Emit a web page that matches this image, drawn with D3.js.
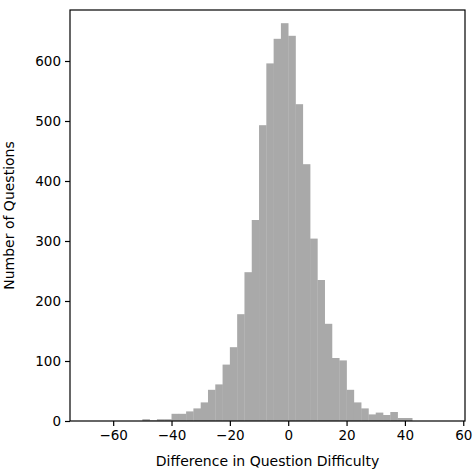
<!DOCTYPE html>
<html><head><meta charset="utf-8">
<script src="https://cdn.jsdelivr.net/npm/d3@7"></script>
<style>body{margin:0;background:#fff}text{font-family:"DejaVu Sans",sans-serif}</style>
</head><body><svg width="474" height="476"></svg>
<script>
// histogram bins (left edges, width 2.5) and counts
var binStart = -50, binWidth = 2.5;
var counts = [3, 1, 3, 3, 12, 12, 16, 21, 31, 52, 61, 94, 123, 178, 248, 335, 493, 596, 637, 663,
              642, 528, 428, 304, 235, 162, 105, 101, 52, 31, 21, 11, 14, 10, 15, 5, 5];
var xTicks = [-60, -40, -20, 0, 20, 40, 60];
var yTicks = [0, 100, 200, 300, 400, 500, 600];

var bins = counts.map(function(c, i) {
  return { x0: binStart + i * binWidth, x1: binStart + (i + 1) * binWidth, n: c };
});

var svg = d3.select("svg");
var padL = 70, padR = 465, padT = 10, padB = 421;
var x = d3.scaleLinear().domain([-74.8, 60.6]).range([padL, padR]);
var y = d3.scaleLinear().domain([0, 685]).range([padB, padT]);

svg.selectAll("rect.bar").data(bins).enter().append("rect")
  .attr("class", "bar")
  .attr("x", function(d) { return x(d.x0); })
  .attr("width", function(d) { return x(d.x1) - x(d.x0) + 0.3; })
  .attr("y", function(d) { return y(d.n); })
  .attr("height", function(d) { return y(0) - y(d.n); })
  .attr("fill", "#a9a9a9");

var xa = svg.append("g").attr("transform", "translate(0," + padB + ")")
  .call(d3.axisBottom(x).tickValues(xTicks).tickSize(5).tickPadding(4).tickFormat(function(d) { return d < 0 ? "\u2212" + (-d) : d; }));
var ya = svg.append("g").attr("transform", "translate(" + padL + ",0)")
  .call(d3.axisLeft(y).tickValues(yTicks).tickSize(5).tickPadding(4));
[xa, ya].forEach(function(a) {
  a.selectAll("text").style("font-size", "13.5px").attr("fill", "#000");
  a.selectAll("line").attr("stroke", "#000").attr("stroke-width", 1.2);
  a.select(".domain").remove();
});

// box spines
svg.append("rect").attr("x", padL).attr("y", padT).attr("width", padR - padL).attr("height", padB - padT)
  .attr("fill", "none").attr("stroke", "#000").attr("stroke-width", 1.2);

svg.append("text").attr("x", (padL + padR) / 2).attr("y", 466).attr("text-anchor", "middle")
  .style("font-size", "14px").text("Difference in Question Difficulty");
svg.append("text").attr("transform", "translate(14," + ((padT + padB) / 2) + ") rotate(-90)")
  .attr("text-anchor", "middle").style("font-size", "14px").text("Number of Questions");
</script></body></html>
